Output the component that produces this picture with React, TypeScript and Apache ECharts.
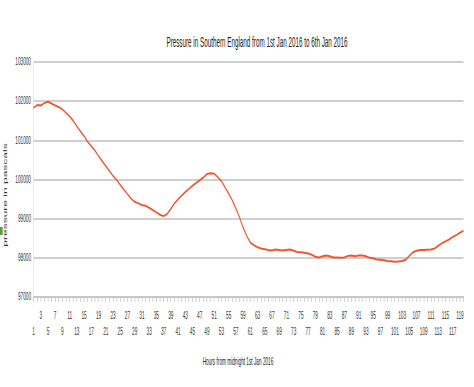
import React, { useEffect, useRef } from "react";
import * as echarts from "echarts";

const TITLE = "Pressure in Southern England from 1st Jan 2016 to 6th Jan 2016";
const X_TITLE = "Hours from midnight 1st Jan 2016";
const Y_TITLE = "pressure in pascals";

const hours: string[] = [];
for (let h = 1; h <= 120; h++) hours.push(String(h));

const pressure: number[] = [
  101830, 101900, 101890, 101950, 101985, 101940, 101890, 101850, 101790, 101700,
  101610, 101500, 101360, 101230, 101110, 100960, 100850, 100740, 100600, 100470,
  100340, 100220, 100090, 99990, 99860, 99750, 99630, 99510, 99430, 99390,
  99350, 99330, 99280, 99220, 99160, 99100, 99065, 99120, 99250, 99390,
  99490, 99590, 99680, 99760, 99840, 99910, 99980, 100050, 100140, 100160,
  100150, 100060, 99960, 99800, 99640, 99470, 99260, 99040, 98780, 98560,
  98390, 98320, 98270, 98240, 98220, 98200, 98190, 98210, 98200, 98190,
  98200, 98210, 98180, 98150, 98140, 98130, 98110, 98080, 98030, 98010,
  98040, 98060, 98040, 98010, 98010, 98000, 98010, 98050, 98060, 98040,
  98060, 98060, 98040, 98000, 97990, 97960, 97950, 97940, 97920, 97910,
  97900, 97905, 97920, 97950, 98050, 98140, 98180, 98200, 98200, 98205,
  98210, 98240, 98310, 98370, 98420, 98470, 98530, 98580, 98640, 98690,
];

const Y_MIN = 97000;
const Y_MAX = 103000;
const Y_STEP = 1000;

const W = 474;
const H = 387;
const INNER_W = 1054;
const S = W / INNER_W;
const FONT = "'Liberation Sans', Arial, sans-serif";

export default function App() {
  const ref = useRef<HTMLDivElement>(null);
  useEffect(() => {
    if (!ref.current) return;
    const chart = echarts.init(ref.current, undefined, { renderer: "svg" });
    const ix = (x: number) => x / S;
    chart.setOption({
      animation: false,
      backgroundColor: "#ffffff",
      textStyle: { fontFamily: FONT },
      grid: { left: ix(33.5), right: ix(10.5), top: 62, bottom: 90, containLabel: false },
      xAxis: {
        type: "category",
        data: hours,
        boundaryGap: false,
        axisLine: { show: true, lineStyle: { color: "#c8c8c8", width: 2 } },
        axisTick: { show: true, interval: 0, length: 5, lineStyle: { color: "#c0c0c0", width: 1.5 } },
        axisLabel: {
          interval: 0,
          margin: 11,
          fontSize: 10.5,
          lineHeight: 16,
          color: "#333",
          fontFamily: FONT,
          formatter: (v: string) => {
            const n = Number(v);
            if (n % 2 === 0) return "";
            return n % 4 === 3 ? `${n}` : `\n${n}`;
          },
        },
        splitLine: { show: false },
      },
      yAxis: {
        type: "value",
        min: Y_MIN,
        max: Y_MAX,
        interval: Y_STEP,
        axisLine: { show: true, lineStyle: { color: "#e0e0e0", width: 1 } },
        axisTick: { show: false },
        axisLabel: {
          margin: ix(2.5),
          fontSize: 10.5,
          color: "#333",
          fontFamily: FONT,
          formatter: (v: number) => String(v),
        },
        splitLine: { show: true, lineStyle: { color: "#cfcfcf", width: 2 } },
      },
      series: [
        {
          type: "line",
          data: pressure,
          showSymbol: false,
          smooth: false,
          lineStyle: { color: "#f0552a", width: 2 },
          itemStyle: { color: "#f0552a" },
        },
      ],
      graphic: [
        {
          type: "text",
          x: ix(257),
          y: 42,
          style: {
            text: TITLE,
            fontSize: 14,
            fontFamily: FONT,
            fill: "#222",
            align: "center",
            verticalAlign: "middle",
          },
        },
        {
          type: "text",
          x: ix(238),
          y: 362,
          style: {
            text: X_TITLE,
            fontSize: 10.5,
            fontFamily: FONT,
            fill: "#222",
            align: "center",
            verticalAlign: "middle",
          },
        },
        {
          type: "text",
          x: ix(5.5),
          y: 195,
          rotation: Math.PI / 2,
          style: {
            text: Y_TITLE,
            fontSize: 12,
            fontFamily: FONT,
            fill: "#333",
            align: "center",
            verticalAlign: "middle",
          },
        },
        {
          type: "rect",
          shape: { x: 0, y: 227, width: ix(2.7), height: 8 },
          style: { fill: "#5c9a4c" },
        },
      ],
    });
    return () => chart.dispose();
  }, []);

  return (
    <div
      style={{
        position: "fixed",
        left: 0,
        top: 0,
        width: W,
        height: H,
        overflow: "hidden",
        background: "#fff",
      }}
    >
      <div
        ref={ref}
        style={{
          width: INNER_W,
          height: H,
          transform: `scaleX(${S})`,
          transformOrigin: "0 0",
        }}
      />
    </div>
  );
}
